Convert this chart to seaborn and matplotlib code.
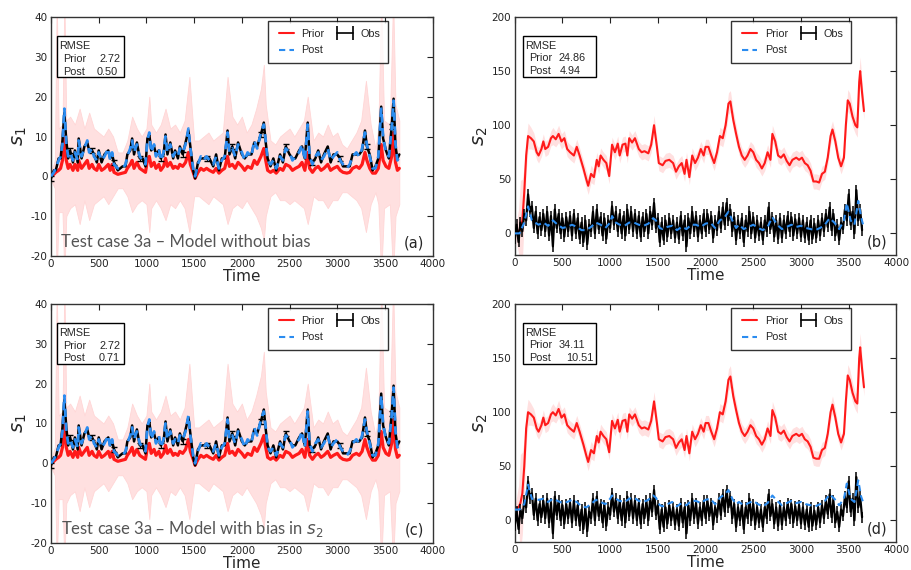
import numpy as np
import pandas as pd
import matplotlib
matplotlib.use("Agg")
import matplotlib.pyplot as plt
import seaborn as sns
from matplotlib.patches import Rectangle

# ---------------- data ----------------
# s1 series (panels a, c)
t_s1 = [0, 30, 50, 80, 100, 120, 140, 160, 180, 200,
        230, 250, 280, 290, 320, 350, 380, 400, 430, 450,
        480, 500, 530, 560, 600, 620, 640, 660, 700, 750,
        780, 800, 830, 850, 870, 900, 930, 960, 990, 1010,
        1030, 1050, 1080, 1100, 1130, 1150, 1180, 1200, 1220, 1250,
        1280, 1300, 1330, 1350, 1380, 1410, 1440, 1460, 1490, 1510,
        1540, 1570, 1600, 1630, 1660, 1700, 1730, 1760, 1790, 1820,
        1850, 1870, 1900, 1930, 1960, 2000, 2030, 2060, 2100, 2130,
        2160, 2200, 2230, 2250, 2270, 2300, 2330, 2360, 2400, 2430,
        2460, 2500, 2530, 2560, 2600, 2630, 2660, 2690, 2710, 2740,
        2770, 2800, 2830, 2860, 2900, 2930, 2960, 3000, 3030, 3060,
        3100, 3130, 3160, 3200, 3230, 3260, 3290, 3310, 3340, 3370,
        3400, 3430, 3460, 3480, 3510, 3540, 3570, 3590, 3610, 3630,
        3650]
post_s1 = [0, 1, 2, 4, 5, 8, 17, 8, 5, 6,
           4, 6, 4, 9, 5, 7, 9, 6, 7, 5,
           4, 6, 4, 5, 7, 4, 6, 3, 2, 2,
           3, 5, 7, 9, 6, 8, 5, 4, 3, 9,
           11, 6, 8, 5, 7, 4, 6, 10, 6, 8,
           5, 6, 5, 7, 6, 8, 12, 7, 2, 0,
           3, 5, 4, 5, 4, 3, 5, 2, 4, 5,
           11, 6, 7, 5, 8, 6, 4, 6, 5, 9,
           7, 11, 13, 9, 4, 3, 4, 2, 5, 4,
           7, 6, 4, 5, 6, 8, 4, 13, 5, 3,
           5, 6, 4, 5, 7, 4, 5, 6, 4, 3,
           2, 3, 5, 6, 5, 7, 11, 8, 5, 2,
           2, 5, 17, 10, 6, 5, 12, 19, 8, 4,
           5]
obs_s1 = [-0.5, 1.5, 1.5, 4.5, 4.5, 9, 16, 9, 4.5, 6.5,
          3.5, 6.5, 3.5, 9.5, 4.5, 7.5, 8.5, 6.5, 6.5, 5.5,
          3.5, 6.5, 3.5, 5.5, 6.5, 4.5, 5.5, 3.5, 1.5, 2.5,
          2.5, 5.5, 6.5, 9.5, 5.5, 8.5, 4.5, 4.5, 2.5, 9.5,
          10.5, 6.5, 7.5, 5.5, 6.5, 4.5, 5.5, 10.5, 5.5, 8.5,
          4.5, 6.5, 4.5, 7.5, 5.5, 8.5, 11.5, 7.5, 1.5, -0.5,
          3.5, 4.5, 4.5, 4.5, 4.5, 2.5, 5.5, 1.5, 4.5, 4.5,
          11.5, 5.5, 7.5, 4.5, 8.5, 5.5, 4.5, 5.5, 5.5, 8.5,
          7.5, 10.5, 13.5, 8.5, 4.5, 2.5, 4.5, 1.5, 5.5, 3.5,
          7.5, 5.5, 4.5, 4.5, 6.5, 7.5, 4.5, 13.5, 4.5, 3.5,
          4.5, 6.5, 3.5, 5.5, 7.5, 3.5, 5.5, 5.5, 4.5, 2.5,
          2.5, 2.5, 5.5, 5.5, 5.5, 6.5, 11.5, 7.5, 5.5, 1.5,
          2.5, 4.5, 17.5, 9.5, 6.5, 4.5, 12.5, 19.5, 7.5, 4.5,
          5.5]
prior_s1 = [0, 0.5, 1, 1.5, 2, 4, 10, 4, 2, 3,
            1.5, 3, 1.5, 4, 2, 3, 4, 2, 3, 2,
            1.5, 3, 1.5, 2, 3, 1.5, 3, 1, 0.5, 0.8,
            1, 2, 3, 4, 2, 3.5, 2, 1.5, 1, 4,
            5, 2.5, 3.5, 2, 3, 1.5, 2.5, 4.5, 2.5, 3.5,
            2, 2.5, 2, 3, 2.5, 3.5, 6, 3, 1, -0.5,
            1, 2, 1.5, 2, 1.5, 1, 2, 0.8, 1.5, 2,
            5, 2.5, 3, 2, 3.5, 2.5, 1.5, 2.5, 2, 4,
            3, 5, 7, 4, 1.5, 1, 1.5, 0.8, 2, 1.5,
            3, 2.5, 1.5, 2, 2.5, 3.5, 1.5, 6, 2, 1,
            2, 2.5, 1.5, 2, 3, 1.5, 2, 2.5, 1.5, 1,
            0.8, 1, 2, 2.5, 2, 3, 6, 4, 2, 0.8,
            0.8, 2, 8, 4, 2.5, 2, 5, 11, 3.5, 1.5,
            2]

# prior spread band for s1
t_band1 = [0, 40, 60, 80, 120, 140, 160, 200, 250, 300,
           350, 400, 450, 500, 550, 600, 650, 700, 750, 800,
           850, 900, 950, 1000, 1030, 1050, 1100, 1150, 1200, 1250,
           1300, 1350, 1400, 1450, 1500, 1550, 1600, 1650, 1700, 1750,
           1800, 1850, 1900, 1950, 2000, 2050, 2100, 2150, 2200, 2230,
           2250, 2300, 2350, 2400, 2450, 2500, 2550, 2600, 2650, 2690,
           2750, 2800, 2850, 2900, 2950, 3000, 3050, 3100, 3150, 3200,
           3250, 3300, 3350, 3400, 3430, 3460, 3490, 3550, 3585, 3610,
           3650]
band1_hi = [1, 4, 45, 12, 13, 45, 14, 15, 13, 17,
            12, 16, 12, 11, 10, 12, 10, 6, 6, 9,
            15, 12, 10, 12, 20, 13, 11, 13, 17, 12,
            13, 11, 14, 25, 9, 9, 10, 11, 9, 10,
            11, 25, 15, 13, 15, 11, 13, 17, 22, 28,
            18, 9, 8, 10, 11, 12, 10, 12, 14, 20,
            9, 11, 10, 13, 10, 11, 8, 7, 9, 11,
            14, 24, 13, 7, 12, 45, 14, 13, 45, 18,
            14]
band1_lo = [-1, -3, -25, -9, -9, -25, -10, -8, -7, -12,
            -6, -11, -7, -6, -5, -7, -5, -3, -3, -5,
            -9, -7, -6, -7, -14, -8, -6, -8, -11, -7,
            -8, -6, -8, -14, -5, -5, -6, -7, -5, -6,
            -7, -12, -8, -7, -8, -6, -8, -10, -13, -16,
            -10, -5, -4, -6, -6, -7, -6, -7, -8, -12,
            -5, -6, -6, -8, -6, -6, -4, -4, -5, -6,
            -8, -14, -7, -4, -7, -25, -8, -7, -25, -10,
            -7]

# s2 prior (panels b, d)
t_prior2 = [0, 40, 60, 80, 100, 120, 140, 170, 200, 230,
            250, 280, 300, 320, 350, 380, 400, 430, 460, 490,
            520, 550, 580, 620, 650, 680, 720, 750, 770, 800,
            830, 860, 880, 900, 930, 960, 990, 1020, 1050, 1080,
            1100, 1130, 1160, 1180, 1200, 1230, 1260, 1300, 1330, 1360,
            1400, 1430, 1460, 1490, 1510, 1550, 1580, 1620, 1660, 1690,
            1720, 1750, 1780, 1800, 1830, 1860, 1890, 1920, 1950, 1980,
            2000, 2030, 2060, 2090, 2120, 2150, 2180, 2210, 2240, 2260,
            2290, 2320, 2350, 2380, 2410, 2440, 2470, 2500, 2530, 2560,
            2590, 2620, 2650, 2680, 2700, 2730, 2760, 2790, 2820, 2850,
            2880, 2910, 2950, 2980, 3010, 3040, 3070, 3100, 3130, 3160,
            3190, 3220, 3250, 3280, 3310, 3330, 3360, 3390, 3420, 3450,
            3470, 3490, 3510, 3540, 3570, 3590, 3610, 3620, 3640, 3660]
prior_s2_b = [0, 2, 4, 12, 38, 72, 90, 88, 85, 75,
              72, 78, 85, 78, 80, 88, 90, 87, 92, 85,
              88, 78, 75, 72, 80, 72, 60, 50, 44, 55,
              52, 68, 62, 72, 68, 65, 53, 82, 75, 83,
              72, 82, 83, 72, 88, 84, 88, 78, 75, 76,
              74, 82, 100, 80, 65, 63, 67, 68, 65, 57,
              62, 65, 55, 68, 52, 72, 65, 70, 78, 72,
              80, 80, 72, 65, 75, 90, 88, 100, 120, 122,
              105, 92, 80, 72, 68, 72, 78, 75, 68, 65,
              60, 65, 75, 68, 92, 85, 72, 70, 73, 67,
              63, 68, 70, 68, 70, 65, 63, 58, 48, 48,
              47, 55, 57, 70, 90, 96, 85, 70, 62, 70,
              100, 123, 120, 108, 100, 98, 140, 150, 130, 113]
prior_s2_d = [10, 12, 16, 25, 50, 85, 100, 98, 95, 85,
              82, 88, 95, 88, 90, 98, 100, 97, 103, 95,
              98, 88, 85, 82, 90, 82, 70, 60, 54, 65,
              62, 78, 72, 82, 78, 75, 63, 92, 85, 93,
              82, 92, 93, 82, 98, 94, 98, 88, 85, 86,
              84, 92, 110, 90, 75, 73, 77, 78, 75, 67,
              72, 75, 65, 78, 62, 82, 75, 80, 88, 82,
              90, 90, 82, 75, 85, 100, 98, 110, 130, 133,
              115, 102, 90, 82, 78, 82, 88, 85, 78, 75,
              70, 75, 85, 78, 102, 95, 82, 80, 83, 77,
              73, 78, 80, 78, 80, 75, 73, 68, 58, 57,
              57, 65, 67, 80, 100, 107, 95, 80, 72, 80,
              110, 134, 130, 118, 110, 108, 150, 160, 140, 123]
spread_s2 = [2, 20, 45, 38, 25, 15, 12, 10, 8, 7,
             7, 7, 7, 7, 7, 7, 8, 7, 8, 7,
             7, 7, 7, 7, 7, 7, 7, 8, 8, 8,
             7, 7, 7, 7, 7, 7, 7, 7, 7, 7,
             7, 7, 7, 7, 7, 7, 7, 7, 7, 7,
             7, 7, 9, 8, 7, 7, 7, 7, 7, 7,
             7, 7, 7, 7, 7, 7, 7, 7, 7, 7,
             7, 7, 7, 7, 7, 8, 8, 9, 10, 10,
             9, 8, 7, 7, 7, 7, 7, 7, 7, 7,
             7, 7, 7, 7, 8, 7, 7, 7, 7, 7,
             7, 7, 7, 7, 7, 7, 7, 7, 7, 7,
             7, 7, 7, 7, 8, 8, 8, 7, 7, 7,
             9, 10, 10, 9, 8, 9, 12, 13, 10, 8]

# s2 posterior
t_post2 = [0, 50, 100, 140, 180, 250, 300, 350, 400, 450,
           500, 550, 600, 650, 700, 750, 800, 850, 900, 950,
           1000, 1020, 1060, 1100, 1150, 1200, 1250, 1300, 1350, 1400,
           1450, 1480, 1520, 1550, 1600, 1650, 1700, 1750, 1800, 1850,
           1900, 1950, 2000, 2050, 2100, 2150, 2200, 2240, 2280, 2320,
           2350, 2400, 2450, 2500, 2550, 2600, 2650, 2700, 2750, 2800,
           2850, 2900, 2950, 3000, 3050, 3100, 3150, 3200, 3250, 3300,
           3350, 3400, 3450, 3480, 3520, 3560, 3600, 3630, 3650]
post_s2_b = [0, 0, 10, 25, 12, 8, 10, 7, 12, 8,
             5, 6, 8, 6, 3, 3, 6, 10, 8, 5,
             10, 16, 10, 8, 7, 10, 10, 8, 7, 9,
             14, 12, 5, 4, 6, 7, 3, 6, 4, 8,
             8, 6, 9, 10, 5, 12, 15, 20, 12, 5,
             8, 4, 6, 8, 5, 3, 6, 15, 8, 4,
             6, 8, 6, 7, 5, 4, 3, 5, 8, 14,
             10, 4, 12, 28, 12, 8, 30, 15, 8]
post_s2_d = [10, 10, 15, 33, 20, 19, 20, 17, 20, 18,
             16, 17, 19, 17, 13, 12, 15, 19, 17, 15,
             20, 23, 20, 18, 17, 20, 21, 18, 17, 19,
             23, 21, 14, 13, 15, 17, 13, 16, 14, 18,
             18, 16, 19, 20, 15, 21, 24, 28, 20, 15,
             17, 14, 16, 18, 15, 13, 16, 23, 18, 14,
             16, 18, 16, 17, 15, 14, 13, 15, 18, 24,
             20, 14, 20, 34, 20, 17, 37, 22, 17]

# s2 observations (every 20 time units from 0 to 3640)
t_obs2 = list(range(0, 3660, 20))
obs_s2 = [-5, 8, -8, 10, 2, 18, 12, 36, 20, 25,
          5, 20, 0, 15, 3, 18, 2, 20, -2, 16,
          -12, 22, 5, 18, 0, 14, -3, 15, 2, 16,
          -2, 18, 0, 14, -5, 10, -8, 12, -10, 8,
          2, 20, 0, 22, 4, 15, -2, 14, -5, 12,
          5, 25, 8, 20, 2, 18, 0, 16, -2, 22,
          4, 20, 2, 18, 0, 16, -3, 15, 2, 18,
          0, 20, 8, 28, 5, 14, -8, 10, -6, 12,
          -3, 14, 0, 12, -4, 10, -5, 16, -2, 12,
          -12, 14, 0, 20, 2, 16, -3, 12, 0, 18,
          2, 18, 4, 16, -4, 12, 3, 20, 5, 24,
          8, 28, 12, 22, 2, 15, -6, 12, 0, 14,
          -8, 12, 2, 20, 0, 15, -4, 12, -2, 10,
          -6, 12, 2, 24, 4, 15, -3, 12, -5, 14,
          -4, 12, 0, 16, 2, 15, -2, 13, 0, 14,
          -3, 12, -4, 10, -6, 12, -5, 9, -4, 12,
          -2, 14, 2, 18, 6, 24, 3, 18, -2, 8,
          -6, 10, 4, 22, 12, 36, 8, 20, 0, 40,
          12, 22, 3]

panel_labels = ["(a)", "(b)", "(c)", "(d)"]
rmse_prior = ["2.72", "24.86", "2.72", "34.11"]
rmse_post = ["0.50", "4.94", "0.71", "10.51"]
case_titles = ["Test case 3a \u2013 Model without bias", None,
               "Test case 3a \u2013 Model with bias in $s_2$", None]

# ---------------- style ----------------
sns.set_style("white")
plt.rcParams.update({
    "font.family": ["DejaVu Sans"],
    "xtick.direction": "in", "ytick.direction": "in",
    "xtick.top": True, "ytick.right": True,
    "xtick.major.size": 4, "ytick.major.size": 4,
    "xtick.major.width": 0.8, "ytick.major.width": 0.8,
    "xtick.labelsize": 7.5, "ytick.labelsize": 7.5,
    "xtick.major.pad": 2.5, "ytick.major.pad": 2.5,
    "xtick.color": "#222222", "ytick.color": "#222222",
    "axes.edgecolor": "#333333", "axes.linewidth": 1.0,
    "axes.unicode_minus": False,
    "mathtext.fontset": "dejavusans",
})

RED = "#ff1a1a"
BLUE = "#2b8cf0"
PINK = "#ffe0e0"

fig = plt.figure(figsize=(9.11, 5.70), dpi=100)
rects = [[0.056, 0.551, 0.419, 0.419],
         [0.565, 0.5526, 0.419, 0.4175],
         [0.056, 0.0474, 0.419, 0.4193],
         [0.565, 0.0491, 0.419, 0.4175]]
axes = [fig.add_axes(r) for r in rects]

leg_font = {"family": "Liberation Sans", "size": 7.8}
box_font = {"family": "Liberation Sans", "size": 7.8}


def draw_panel(ax, idx):
    if idx in (0, 2):
        ax.fill_between(t_band1, band1_lo, band1_hi, color=PINK, lw=0.6,
                        edgecolor="#ffd6d6", zorder=1)
        sns.lineplot(x=t_s1, y=prior_s1, ax=ax, color=RED, lw=2.3, zorder=2)
        sns.lineplot(x=t_s1, y=obs_s1, ax=ax, color="black", lw=1.8, zorder=3)
        ax.errorbar(t_s1[::9], obs_s1[::9], yerr=0.6, fmt="none", ecolor="black",
                    elinewidth=0.8, capsize=2, zorder=3)
        sns.lineplot(x=t_s1, y=post_s1, ax=ax, color=BLUE, lw=2.0,
                     linestyle=(0, (3.0, 2.0)), zorder=4)
        ax.set_ylim(-20, 40)
        ax.set_yticks(range(-20, 41, 10))
        ax.set_ylabel("$s_1$", fontsize=14, labelpad=1)
    else:
        prior = prior_s2_b if idx == 1 else prior_s2_d
        post = post_s2_b if idx == 1 else post_s2_d
        lo = [p - s for p, s in zip(prior, spread_s2)]
        hi = [p + s for p, s in zip(prior, spread_s2)]
        ax.fill_between(t_prior2, lo, hi, color=PINK, lw=0, zorder=1)
        sns.lineplot(x=t_prior2, y=prior, ax=ax, color=RED, lw=1.5, zorder=2)
        ax.errorbar(t_obs2, obs_s2, yerr=5, fmt="none", ecolor="black",
                    elinewidth=1.1, capsize=0, zorder=3)
        sns.lineplot(x=t_obs2, y=obs_s2, ax=ax, color="black", lw=1.6, zorder=3)
        sns.lineplot(x=t_post2, y=post, ax=ax, color=BLUE, lw=1.5,
                     linestyle=(0, (3.0, 2.0)), zorder=4)
        ax.set_ylim(-20, 200)
        ax.set_yticks(range(0, 201, 50))
        ax.set_ylabel("$s_2$", fontsize=14, labelpad=1)

    ax.set_xlim(0, 4000)
    ax.set_xticks(range(0, 4001, 500))
    ax.set_xlabel("Time", fontsize=11, labelpad=0)

    # legend
    h_prior = plt.Line2D([], [], color=RED, lw=1.5)
    h_post = plt.Line2D([], [], color=BLUE, lw=1.5, linestyle=(0, (3.0, 2.0)))
    h_obs = plt.Line2D([], [], color="black", lw=1.2, marker="|",
                       markersize=10, markeredgewidth=1.2)
    leg = ax.legend([h_prior, h_post, h_obs], ["Prior", "Post", "Obs"], ncol=2,
                    loc="upper right", bbox_to_anchor=(0.882, 0.982),
                    prop=leg_font, frameon=True, fancybox=False, numpoints=2,
                    borderpad=0.7, labelspacing=0.6, handlelength=2.0,
                    handletextpad=0.4, columnspacing=0.9, borderaxespad=0.0)
    leg.get_frame().set_edgecolor("black")
    leg.get_frame().set_linewidth(1.0)
    leg.set_zorder(10)

    # RMSE box
    if idx in (0, 2):
        x0, x1 = 0.016, 0.191
        xnum = [0.126, 0.120] if idx == 0 else [0.126, 0.126]
    else:
        x0, x1 = 0.021, 0.214
        xnum = [0.115, 0.117] if idx == 1 else [0.115, 0.134]
    y0, y1 = 0.749, 0.92
    ax.add_patch(Rectangle((x0, y0), x1 - x0, y1 - y0, transform=ax.transAxes,
                           fc="white", ec="black", lw=1.0, zorder=9))
    ax.text(x0 + 0.006, 0.878, "RMSE", transform=ax.transAxes, va="center",
            ha="left", fontdict=box_font, zorder=10)
    ax.text(x0 + 0.016, 0.826, "Prior", transform=ax.transAxes, va="center",
            ha="left", fontdict=box_font, zorder=10)
    ax.text(x0 + 0.016, 0.772, "Post", transform=ax.transAxes, va="center",
            ha="left", fontdict=box_font, zorder=10)
    ax.text(xnum[0], 0.826, rmse_prior[idx], transform=ax.transAxes,
            va="center", ha="left", fontdict=box_font, zorder=10)
    ax.text(xnum[1], 0.772, rmse_post[idx], transform=ax.transAxes,
            va="center", ha="left", fontdict=box_font, zorder=10)

    # panel letter
    ax.text(0.977, 0.035, panel_labels[idx], transform=ax.transAxes, ha="right",
            va="baseline", fontsize=10.5, zorder=10)
    if case_titles[idx]:
        ax.text(0.026, 0.036, case_titles[idx], transform=ax.transAxes,
                ha="left", va="baseline", fontsize=12, color="#555555",
                family=["Lato", "DejaVu Sans"], zorder=10)
    for sp in ax.spines.values():
        sp.set_visible(True)


for i, ax in enumerate(axes):
    draw_panel(ax, i)

fig.savefig("out.png", dpi=100)
